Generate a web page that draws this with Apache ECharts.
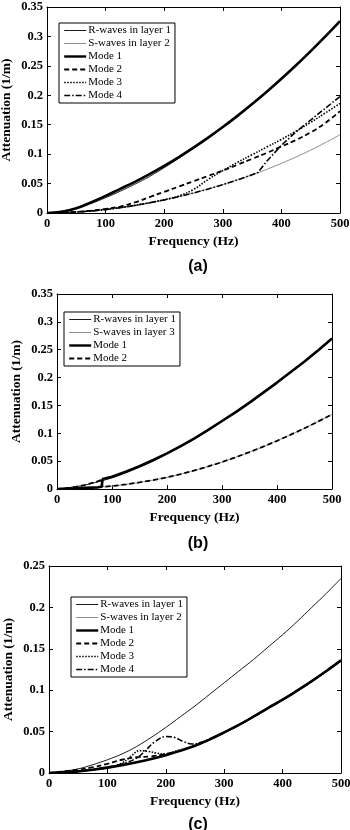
<!DOCTYPE html>
<html>
<head>
<meta charset="utf-8">
<script src="https://cdn.jsdelivr.net/npm/echarts@6/dist/echarts.min.js"></script>
<style>html,body{margin:0;padding:0;background:#fff;}#c{width:350px;height:830px;}</style>
</head>
<body>
<div id="c"></div>
<script>
// ---------- data ----------
const freqStd = [0,25,50,75,100,125,150,175,200,225,250,275,300,325,350,375,400,425,450,475,500];

// Panel (a)
const a_R  = [0,0.003,0.008,0.016,0.026,0.037,0.049,0.062,0.077,0.093,0.110,0.127,0.145,0.164,0.184,0.205,0.227,0.250,0.274,0.299,0.325];
const a_S  = [0,0.0004,0.0015,0.0033,0.0058,0.009,0.0128,0.0172,0.0222,0.0278,0.034,0.0408,0.0482,0.0562,0.0648,0.0742,0.0843,0.0952,0.1068,0.1195,0.133];
const a_M1 = [0,0.002,0.008,0.018,0.029,0.041,0.053,0.066,0.080,0.095,0.111,0.128,0.146,0.165,0.185,0.206,0.228,0.251,0.275,0.300,0.326];
const a_M2 = [0,0.0008,0.002,0.004,0.007,0.011,0.018,0.027,0.036,0.045,0.054,0.063,0.072,0.082,0.092,0.102,0.113,0.124,0.137,0.153,0.173];
const a_M3 = [0,0.0005,0.0016,0.0035,0.006,0.0092,0.013,0.0175,0.0225,0.029,0.040,0.057,0.072,0.086,0.099,0.112,0.125,0.139,0.154,0.170,0.186];
const a_M4_f = [0,25,50,75,100,125,150,175,200,225,250,275,300,325,350,360,375,400,425,450,475,500];
const a_M4 = [0,0.0004,0.0015,0.0033,0.0058,0.009,0.0128,0.0172,0.0222,0.0278,0.034,0.0408,0.0482,0.0562,0.0648,0.069,0.088,0.115,0.138,0.158,0.178,0.198];

// Panel (b)
const b_R  = [0,0.003,0.007,0.013,0.020,0.029,0.039,0.050,0.063,0.076,0.090,0.105,0.121,0.137,0.154,0.172,0.190,0.209,0.228,0.248,0.269];
const b_S  = [0,0.0005,0.0015,0.003,0.0052,0.0082,0.0118,0.016,0.021,0.0268,0.0333,0.0405,0.0484,0.057,0.0663,0.076,0.0865,0.0975,0.109,0.1212,0.134];
const b_M_f = [0,25,50,75,81,83,100,125,150,175,200,225,250,275,300,325,350,375,400,425,450,475,500];
const b_M1 = [0,0.001,0.002,0.003,0.004,0.018,0.022,0.031,0.041,0.052,0.064,0.077,0.091,0.106,0.122,0.138,0.155,0.173,0.191,0.210,0.229,0.249,0.270];
const b_M2 = [0,0.002,0.007,0.014,0.017,0.004,0.0052,0.0082,0.0118,0.016,0.021,0.0268,0.0333,0.0405,0.0484,0.057,0.0663,0.076,0.0865,0.0975,0.109,0.1212,0.134];

// Panel (c)
const c_R  = [0,0.002,0.005,0.010,0.016,0.023,0.032,0.043,0.055,0.068,0.081,0.095,0.109,0.123,0.137,0.152,0.167,0.183,0.200,0.217,0.235];
const c_S  = [0,0.0012,0.0024,0.0044,0.0069,0.0099,0.0134,0.0174,0.0219,0.0274,0.0334,0.0409,0.0494,0.0584,0.0684,0.0789,0.0889,0.0999,0.1114,0.1236,0.1364];
const c_M1 = [0,0.001,0.002,0.004,0.0065,0.0095,0.013,0.017,0.0215,0.027,0.033,0.0405,0.049,0.058,0.068,0.0785,0.0885,0.0995,0.111,0.1232,0.136];
const c_M2 = [0,0.002,0.004,0.007,0.011,0.016,0.019,0.020,0.023,0.027,0.033,0.0405,0.049,0.058,0.068,0.0785,0.0885,0.0995,0.111,0.1232,0.136];
const c_M3_f = [0,25,50,75,100,125,140,155,170,185,197,210,225,250,275,300,325,350,375,400,425,450,475,500];
const c_M3 = [0,0.001,0.002,0.004,0.006,0.012,0.020,0.027,0.026,0.024,0.023,0.025,0.028,0.033,0.0405,0.049,0.058,0.068,0.0785,0.0885,0.0995,0.111,0.1232,0.136];
const c_M4_f = [0,25,50,75,100,125,150,165,180,200,215,230,245,260,275,300,325,350,375,400,425,450,475,500];
const c_M4 = [0,0.001,0.002,0.004,0.007,0.011,0.018,0.027,0.037,0.044,0.043,0.038,0.035,0.037,0.041,0.049,0.058,0.068,0.0785,0.0885,0.0995,0.111,0.1232,0.136];

const xTicks = {min:0, max:500, interval:100};
const yMaxes = [0.35, 0.35, 0.25];
const yIntervals = [0.05, 0.05, 0.05];
const panelLabels = ['(a)','(b)','(c)'];
const legendA = ['R-waves in layer 1','S-waves in layer 2','Mode 1','Mode 2','Mode 3','Mode 4'];
const legendB = ['R-waves in layer 1','S-waves in layer 3','Mode 1','Mode 2'];
const legendC = ['R-waves in layer 1','S-waves in layer 2','Mode 1','Mode 2','Mode 3','Mode 4'];

// ---------- styles ----------
const STY = {
  'R': {color:'#000', width:0.9, type:'solid'},
  'S': {color:'#808080', width:0.9, type:'solid'},
  'M1': {color:'#000', width:2.6, type:'solid'},
  'M2': {color:'#000', width:1.8, type:[5,3]},
  'M3': {color:'#000', width:1.6, type:[1.5,1.5]},
  'M4': {color:'#000', width:1.6, type:[6,2,1.5,2]}
};
const keyOf = n => n.startsWith('R-') ? 'R' : n.startsWith('S-') ? 'S' : 'M' + n.slice(-1);
const pair = (xs, ys) => xs.map((x,i)=>[x, ys[i]]);
function ser(name, key, gi, xs, ys, smooth){
  const s = STY[key];
  return {
    type:'line', name:name, xAxisIndex:gi*2, yAxisIndex:gi*2,
    data:pair(xs, ys), showSymbol:false, symbol:'none',
    smooth: smooth===false ? false : 0.4,
    lineStyle:{color:s.color, width:s.width, type:s.type},
    itemStyle:{color:s.color},
    z: key==='M1'?3:2, animation:false
  };
}

const grids = [
  {left:47, right:10, top:7, height:206},
  {left:57, right:18, top:294, height:195},
  {left:49, right:9, top:566, height:207}
];
const serifB = {fontFamily:'Liberation Serif', fontWeight:'bold', color:'#000'};

const xAxes = [], yAxes = [];
grids.forEach((g, i) => {
  xAxes.push({
    gridIndex:i, type:'value', min:xTicks.min, max:xTicks.max, interval:xTicks.interval,
    name:'Frequency (Hz)', nameLocation:'middle', nameGap:22,
    nameTextStyle:Object.assign({fontSize:13.5}, serifB),
    axisLine:{show:true, onZero:false, lineStyle:{color:'#000', width:1}},
    axisTick:{show:true, inside:true, length:4, lineStyle:{color:'#000'}},
    axisLabel:Object.assign({fontSize:12.5, margin:4}, serifB),
    splitLine:{show:false}
  });
  xAxes.push({
    gridIndex:i, type:'value', position:'top', min:xTicks.min, max:xTicks.max, interval:xTicks.interval,
    axisLine:{show:true, onZero:false, lineStyle:{color:'#000', width:1}},
    axisTick:{show:true, inside:true, length:4, lineStyle:{color:'#000'}},
    axisLabel:{show:false}, splitLine:{show:false}
  });
  yAxes.push({
    gridIndex:i, type:'value', min:0, max:yMaxes[i], interval:yIntervals[i],
    name:'Attenuation (1/m)', nameLocation:'middle', nameGap:33, nameMoveOverlap:false,
    nameTextStyle:Object.assign({fontSize:13.5}, serifB),
    axisLine:{show:true, onZero:false, lineStyle:{color:'#000', width:1}},
    axisTick:{show:true, inside:true, length:4, lineStyle:{color:'#000'}},
    axisLabel:Object.assign({fontSize:12.5, margin:4}, serifB),
    splitLine:{show:false}
  });
  yAxes.push({
    gridIndex:i, type:'value', position:'right', min:0, max:yMaxes[i], interval:yIntervals[i],
    axisLine:{show:true, onZero:false, lineStyle:{color:'#000', width:1}},
    axisTick:{show:true, inside:true, length:4, lineStyle:{color:'#000'}},
    axisLabel:{show:false}, splitLine:{show:false}
  });
});

const series = [
  ser('R-waves in layer 1','R',0,freqStd,a_R),
  ser('S-waves in layer 2','S',0,freqStd,a_S),
  ser('Mode 1','M1',0,freqStd,a_M1),
  ser('Mode 2','M2',0,freqStd,a_M2),
  ser('Mode 3','M3',0,freqStd,a_M3),
  ser('Mode 4','M4',0,a_M4_f,a_M4,false),

  ser('R-waves in layer 1','R',1,freqStd,b_R),
  ser('S-waves in layer 3','S',1,freqStd,b_S),
  ser('Mode 1','M1',1,b_M_f,b_M1,false),
  ser('Mode 2','M2',1,b_M_f,b_M2,false),

  ser('R-waves in layer 1','R',2,freqStd,c_R),
  ser('S-waves in layer 2','S',2,freqStd,c_S),
  ser('Mode 1','M1',2,freqStd,c_M1),
  ser('Mode 2','M2',2,freqStd,c_M2),
  ser('Mode 3','M3',2,c_M3_f,c_M3),
  ser('Mode 4','M4',2,c_M4_f,c_M4)
];

function leg(names, left, top, w){
  return {
    data:names.map(n => {
      const s = STY[keyOf(n)];
      return {name:n, lineStyle:{color:s.color, width:Math.min(s.width, 2.4), type:s.type}, itemStyle:{opacity:0, borderWidth:0}};
    }),
    orient:'vertical', left:left, top:top, width:w,
    itemWidth:22, itemHeight:11, itemGap:2, padding:[2,4,2,4],
    borderColor:'#000', borderWidth:1, backgroundColor:'#fff',
    selectedMode:false,
    itemStyle:{opacity:0, borderWidth:0},
    textStyle:{fontFamily:'Liberation Serif', fontSize:11, color:'#000', padding:[0,0,0,-3]}
  };
}

const titles = panelLabels.map((t, i) => ({
  text:t, left:193, top:[254, 531, 812][i], textAlign:'center',
  textStyle:{fontFamily:'Liberation Sans', fontWeight:'bold', fontSize:16, color:'#000'}
}));

const chart = echarts.init(document.getElementById('c'), null, {renderer:'canvas'});
chart.setOption({
  animation:false,
  backgroundColor:'#fff',
  title:titles,
  grid:grids.map(g => Object.assign({show:false, containLabel:false, outerBoundsMode:'none'}, g)),
  xAxis:xAxes, yAxis:yAxes,
  legend:[
    leg(legendA, 59, 23, 100),
    leg(legendB, 64, 312, 110),
    leg(legendC, 71, 597, 100)
  ],
  series:series
});
</script>
</body>
</html>
